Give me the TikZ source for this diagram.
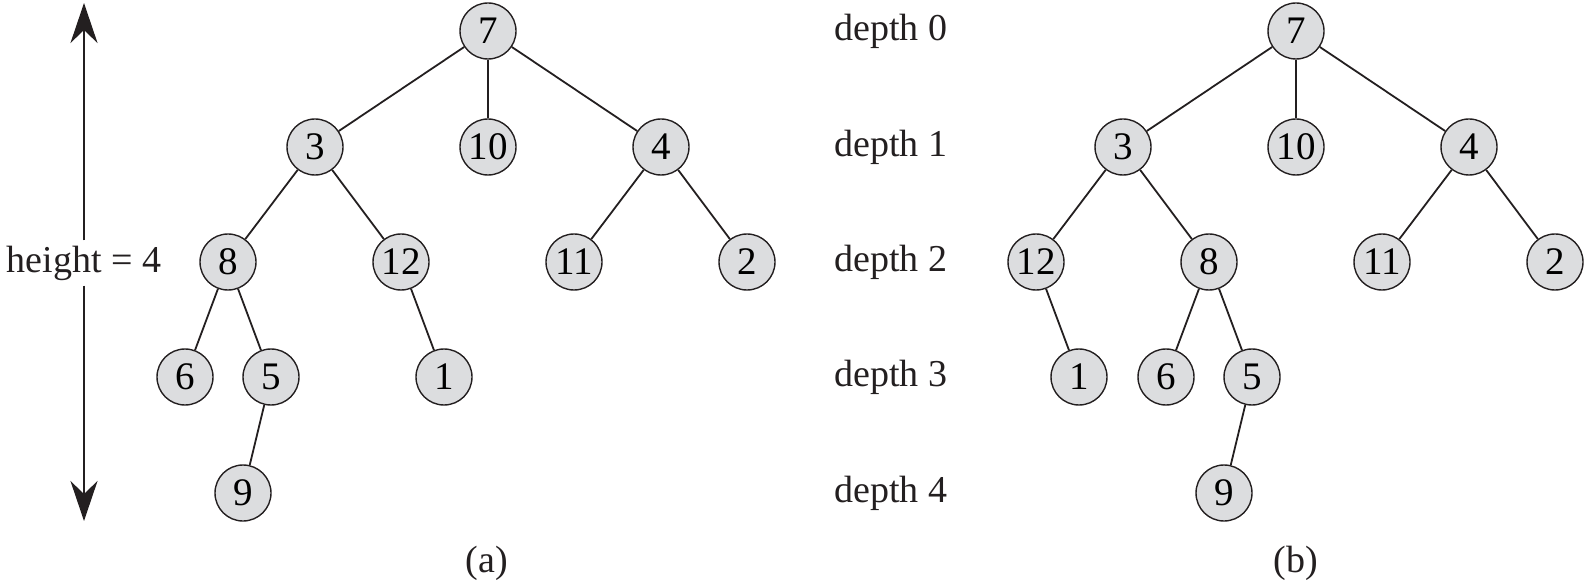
\documentclass[tikz,border=0pt]{standalone}
\usepackage{fontspec}
\setmainfont{Liberation Serif}
\usetikzlibrary{arrows.meta}
\definecolor{nodefill}{RGB}{220,221,223}
\definecolor{ink}{RGB}{35,31,32}
\begin{document}
\begin{tikzpicture}[x=1pt,y=-1pt,
  tnode/.style={circle,draw=ink,fill=nodefill,line width=1.4pt,minimum size=56pt,inner sep=0pt,font=\fontsize{39}{42}\selectfont},
  lbl/.style={inner sep=0pt,text=ink,font=\fontsize{38}{42}\selectfont},
  edge/.style={draw=ink,line width=1.8pt},
  harrow/.style={draw=ink,line width=2.6pt,-{Stealth[length=40pt,width=27pt,inset=13pt]}}]
\useasboundingbox (0,0) rectangle (1588,585);
% tree (a)
\node[tnode] (a7) at (488,31) {7};
\node[tnode] (a3) at (315,147) {3};
\node[tnode] (a10) at (488,147) {10};
\node[tnode] (a4) at (661,147) {4};
\node[tnode] (a8) at (228,262) {8};
\node[tnode] (a12) at (401,262) {12};
\node[tnode] (a11) at (574,262) {11};
\node[tnode] (a2) at (747,262) {2};
\node[tnode] (a6) at (185,377) {6};
\node[tnode] (a5) at (271,377) {5};
\node[tnode] (a1) at (444,377) {1};
\node[tnode] (a9) at (243,493) {9};
\draw[edge] (a7) -- (a3);
\draw[edge] (a7) -- (a10);
\draw[edge] (a7) -- (a4);
\draw[edge] (a3) -- (a8);
\draw[edge] (a3) -- (a12);
\draw[edge] (a4) -- (a11);
\draw[edge] (a4) -- (a2);
\draw[edge] (a8) -- (a6);
\draw[edge] (a8) -- (a5);
\draw[edge] (a12) -- (a1);
\draw[edge] (a5) -- (a9);
% tree (b)
\node[tnode] (b7) at (1296,31) {7};
\node[tnode] (b3) at (1123,147) {3};
\node[tnode] (b10) at (1296,147) {10};
\node[tnode] (b4) at (1469,147) {4};
\node[tnode] (b12) at (1036,262) {12};
\node[tnode] (b8) at (1209,262) {8};
\node[tnode] (b11) at (1382,262) {11};
\node[tnode] (b2) at (1555,262) {2};
\node[tnode] (b1) at (1079,377) {1};
\node[tnode] (b6) at (1166,377) {6};
\node[tnode] (b5) at (1252,377) {5};
\node[tnode] (b9) at (1224,493) {9};
\draw[edge] (b7) -- (b3);
\draw[edge] (b7) -- (b10);
\draw[edge] (b7) -- (b4);
\draw[edge] (b3) -- (b12);
\draw[edge] (b3) -- (b8);
\draw[edge] (b4) -- (b11);
\draw[edge] (b4) -- (b2);
\draw[edge] (b12) -- (b1);
\draw[edge] (b8) -- (b6);
\draw[edge] (b8) -- (b5);
\draw[edge] (b5) -- (b9);
% depth labels
\node[lbl] (d0) at (891,31) {depth 0};
\node[lbl] (d1) at (891,147) {depth 1};
\node[lbl] (d2) at (891,262) {depth 2};
\node[lbl] (d3) at (891,377) {depth 3};
\node[lbl] (d4) at (891,493) {depth 4};
% height arrow
\node[lbl,minimum height=45pt] (h) at (84,263) {height = 4};
\coordinate (htop) at (84,3);
\coordinate (hbot) at (84,521);
\draw[harrow] (h.north) -- (htop);
\draw[harrow] (h.south) -- (hbot);
% captions
\node[lbl] (capa) at (487,563) {(a)};
\node[lbl] (capb) at (1296,563) {(b)};
\end{tikzpicture}
\end{document}
